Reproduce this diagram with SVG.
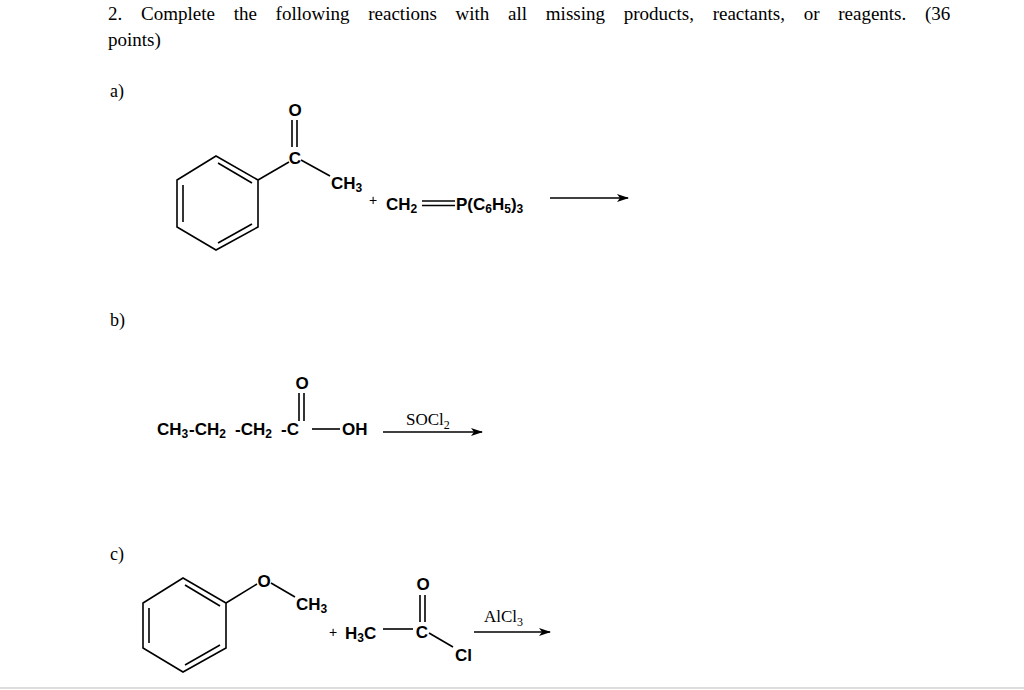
<svg xmlns="http://www.w3.org/2000/svg" width="1024" height="690" viewBox="0 0 1024 690">
<style>
.t{font-family:"Liberation Serif",serif;font-size:18px;fill:#000}
.c{font-family:"Liberation Sans",Arial,sans-serif;font-size:17px;font-weight:bold;fill:#000}
.s{font-size:12px}
line,polyline,polygon.r{stroke:#000;stroke-width:1.6;fill:none}
</style>
<defs><marker id="ah" markerWidth="12" markerHeight="8" refX="11" refY="4" orient="auto" markerUnits="userSpaceOnUse"><path d="M0,0 L12,4 L0,8 L3,4 Z" fill="#000"/></marker></defs>
<rect width="1024" height="690" fill="#fff"/>
<line x1="0" y1="688" x2="1024" y2="688" style="stroke:#ddd;stroke-width:2"/>
<text class="t" x="108" y="20" style="font-size:19px;word-spacing:14px">2. Complete the following reactions with all missing products, reactants, or reagents. (36</text>
<text class="t" x="108" y="46" style="font-size:19px">points)</text>
<text class="t" x="110" y="97">a)</text>
<text class="t" x="110" y="326">b)</text>
<text class="t" x="110" y="560">c)</text>
<g id="acetophenone">
<polygon class="r" points="216,156 258,180 258,227 216,250 177,227 177,180"/>
<line x1="183" y1="185" x2="183" y2="222"/><line x1="218" y1="163" x2="252" y2="183"/><line x1="218" y1="243" x2="252" y2="224"/>
<line x1="258" y1="180" x2="289" y2="162"/>
<line x1="292" y1="120" x2="292" y2="147"/><line x1="297" y1="120" x2="297" y2="147"/>
<text class="c" x="295" y="116" text-anchor="middle">O</text>
<text class="c" x="295" y="164" text-anchor="middle">C</text>
<line x1="301" y1="160" x2="330" y2="176"/>
<text class="c" x="331" y="189">CH<tspan class="s" dy="3">3</tspan></text>
</g>
<g id="ylide">
<text class="c" x="369" y="205" style="font-weight:normal;font-size:14px">+</text>
<text class="c" x="386" y="210">CH<tspan class="s" dy="3">2</tspan></text>
<line x1="422" y1="201" x2="455" y2="201"/><line x1="422" y1="205.5" x2="455" y2="205.5"/>
<text class="c" x="456" y="210">P(C<tspan class="s" dy="3">6</tspan><tspan dy="-3">H</tspan><tspan class="s" dy="3">5</tspan><tspan dy="-3">)</tspan><tspan class="s" dy="3">3</tspan></text>
</g>
<g id="acid">
<text class="c" x="157" y="435">CH<tspan class="s" dy="3">3</tspan></text>
<text class="c" x="189" y="435">-CH<tspan class="s" dy="3">2</tspan></text>
<text class="c" x="235" y="435">-CH<tspan class="s" dy="3">2</tspan></text>
<text class="c" x="281" y="435">-C</text>
<line x1="299" y1="393" x2="299" y2="421"/><line x1="304" y1="393" x2="304" y2="421"/>
<text class="c" x="302" y="389" text-anchor="middle">O</text>
<line x1="312" y1="429" x2="340" y2="429"/>
<text class="c" x="342" y="435">OH</text>
</g>
<g id="anisole">
<polygon class="r" points="183,578 226,603 226,648 183,672 143,648 143,603"/>
<line x1="149" y1="608" x2="149" y2="643"/><line x1="185" y1="585" x2="220" y2="606"/><line x1="185" y1="665" x2="220" y2="645"/>
<line x1="226" y1="603" x2="257" y2="584"/>
<text class="c" x="264" y="587" text-anchor="middle">O</text>
<line x1="271" y1="583" x2="295" y2="597"/>
<text class="c" x="296" y="610">CH<tspan class="s" dy="3">3</tspan></text>
</g>
<g id="acetylchloride">
<text class="c" x="329" y="637" style="font-weight:normal;font-size:14px">+</text>
<text class="c" x="345" y="639">H<tspan class="s" dy="3">3</tspan><tspan dy="-3">C</tspan></text>
<line x1="383" y1="629" x2="413" y2="629"/>
<text class="c" x="422" y="638" text-anchor="middle">C</text>
<line x1="420" y1="595" x2="420" y2="622"/><line x1="425" y1="595" x2="425" y2="622"/>
<text class="c" x="423" y="590" text-anchor="middle">O</text>
<line x1="429" y1="633" x2="453" y2="647"/>
<text class="c" x="455" y="661">Cl</text>
</g>
<g id="connectors">
<line x1="550" y1="198" x2="628" y2="198" marker-end="url(#ah)"/>
<line x1="383" y1="432" x2="482" y2="432" marker-end="url(#ah)"/>
<text class="t" x="406" y="425" style="font-size:17px">SOCl<tspan dy="4" style="font-size:12px">2</tspan></text>
<line x1="474" y1="632" x2="550" y2="632" marker-end="url(#ah)"/>
<text class="t" x="484" y="622" style="font-size:17px">AlCl<tspan dy="4" style="font-size:12px">3</tspan></text>
</g>
</svg>
